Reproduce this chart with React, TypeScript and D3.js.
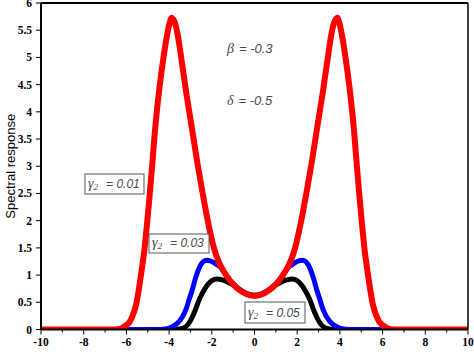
import React from 'react';
import * as d3 from 'd3';

const W = 474;
const H = 352;

const xTicks = [-10, -8, -6, -4, -2, 0, 2, 4, 6, 8, 10];
const xMinorTicks = [-9, -7, -5, -3, -1, 1, 3, 5, 7, 9];
const yTicks = [0, 0.5, 1, 1.5, 2, 2.5, 3, 3.5, 4, 4.5, 5, 5.5, 6];
const yTickLabels = ['0', '0.5', '1', '1.5', '2', '2.5', '3', '3.5', '4', '4.5', '5', '5.5', '6'];

const redX = [-10, -8, -6.6, -6.4, -6.2, -6.0, -5.85, -5.72, -5.55, -5.41, -5.3, -5.17, -5.02, -4.9, -4.78, -4.64, -4.45, -4.27, -4.1, -3.97, -3.88, -3.75, -3.6, -3.41, -3.2, -2.94, -2.7, -2.45, -2.25, -2.1, -1.95, -1.8, -1.6, -1.3, -1.0, -0.6, -0.3, 0,
  0.3, 0.6, 1.0, 1.3, 1.6, 1.8, 1.95, 2.1, 2.25, 2.45, 2.7, 2.94, 3.2, 3.41, 3.6, 3.75, 3.88, 3.97, 4.1, 4.27, 4.45, 4.64, 4.78, 4.9, 5.02, 5.17, 5.3, 5.41, 5.55, 5.72, 5.85, 6.0, 6.2, 6.4, 6.6, 8, 10];
const redY = [0, 0, 0.001, 0.005, 0.03, 0.08, 0.14, 0.24, 0.45, 0.76, 1.05, 1.42, 2.0, 2.52, 3.08, 3.75, 4.45, 4.98, 5.4, 5.64, 5.73, 5.66, 5.42, 4.93, 4.36, 3.72, 3.12, 2.55, 2.12, 1.83, 1.57, 1.37, 1.18, 0.98, 0.83, 0.7, 0.64, 0.62,
  0.64, 0.7, 0.83, 0.98, 1.18, 1.37, 1.57, 1.83, 2.12, 2.55, 3.12, 3.72, 4.36, 4.93, 5.42, 5.66, 5.73, 5.64, 5.4, 4.98, 4.45, 3.75, 3.08, 2.52, 2.0, 1.42, 1.05, 0.76, 0.45, 0.24, 0.14, 0.08, 0.03, 0.005, 0.001, 0, 0];

const blueX = [-10, -4.6, -4.3, -4.1, -3.85, -3.6, -3.38, -3.2, -3.07, -2.9, -2.75, -2.5, -2.3, -2.0, -1.8, -1.6, -1.3, -1.0, -0.6, -0.3, 0,
  0.3, 0.6, 1.0, 1.3, 1.6, 1.8, 2.0, 2.3, 2.5, 2.75, 2.9, 3.07, 3.2, 3.38, 3.6, 3.85, 4.1, 4.3, 4.6, 10];
const blueY = [0, 0, 0.005, 0.015, 0.05, 0.12, 0.23, 0.38, 0.54, 0.75, 0.96, 1.2, 1.27, 1.25, 1.2, 1.15, 0.98, 0.84, 0.71, 0.65, 0.63,
  0.65, 0.71, 0.84, 0.98, 1.15, 1.2, 1.25, 1.27, 1.2, 0.96, 0.75, 0.54, 0.38, 0.23, 0.12, 0.05, 0.015, 0.005, 0, 0];

const blackX = [-10, -3.8, -3.5, -3.3, -3.1, -2.9, -2.75, -2.6, -2.4, -2.2, -2.0, -1.74, -1.5, -1.25, -1.0, -0.8, -0.5, -0.25, 0,
  0.25, 0.5, 0.8, 1.0, 1.25, 1.5, 1.74, 2.0, 2.2, 2.4, 2.6, 2.75, 2.9, 3.1, 3.3, 3.5, 3.8, 10];
const blackY = [0, 0, 0.01, 0.03, 0.1, 0.24, 0.38, 0.54, 0.7, 0.82, 0.9, 0.93, 0.91, 0.87, 0.82, 0.76, 0.68, 0.635, 0.62,
  0.635, 0.68, 0.76, 0.82, 0.87, 0.91, 0.93, 0.9, 0.82, 0.7, 0.54, 0.38, 0.24, 0.1, 0.03, 0.01, 0, 0];

const seriesList = [
  { name: 'g005', xs: blackX, ys: blackY, color: '#000000', width: 5 },
  { name: 'g003', xs: blueX, ys: blueY, color: '#0000ff', width: 5 },
  { name: 'g001', xs: redX, ys: redY, color: '#ff0000', width: 6 },
];

const boxLabels = [
  { value: '0.01', x0: 85, y0: 174, x1: 144, y1: 194 },
  { value: '0.03', x0: 149, y0: 234, x1: 209, y1: 253 },
  { value: '0.05', x0: 245, y0: 302, x1: 305, y1: 323 },
];

export default function App() {
  const left = 41, right = 468, top = 3, bottom = 329.5;
  const x = d3.scaleLinear().domain([-10, 10]).range([left, right]);
  const y = d3.scaleLinear().domain([0, 6]).range([bottom, top]);
  const line = d3.line<[number, number]>()
    .x(d => x(d[0]))
    .y(d => y(Math.max(0, d[1])))
    .curve(d3.curveCatmullRom.alpha(0.5));

  const serif = "'Liberation Serif', 'Times New Roman', Times, 'DejaVu Serif', serif";
  const sans = "'Liberation Sans', Arial, sans-serif";
  const annColor = '#4a4a4a';

  return (
    <svg width={W} height={H} style={{ position: 'absolute', left: 0, top: 0, background: '#fff' }}>
      <defs>
        <clipPath id="plotclip">
          <rect x={left} y={top - 3} width={right - left} height={bottom - top + 3} />
        </clipPath>
      </defs>
      <rect x={0} y={0} width={W} height={H} fill="#fff" />
      <g clipPath="url(#plotclip)">
        {seriesList.map(s => (
          <path key={s.name}
            d={line(s.xs.map((v, i) => [v, s.ys[i]] as [number, number])) || ''}
            fill="none" stroke={s.color} strokeWidth={s.width} strokeLinejoin="round" strokeLinecap="round" />
        ))}
        <path
          d={line(redX.map((v, i) => [v, redY[i]] as [number, number])) || ''}
          fill="none" stroke="#d80000" strokeWidth={1.2} strokeDasharray="1 3" opacity={0.6} />
      </g>

      {/* frame */}
      <line x1={left} x2={right} y1={top} y2={top} stroke="#000" strokeWidth={2} />
      <line x1={left} x2={right} y1={bottom} y2={bottom} stroke="#000" strokeWidth={2} />
      <line x1={left} x2={left} y1={top} y2={bottom} stroke="#000" strokeWidth={2} />
      <line x1={right} x2={right} y1={top} y2={bottom} stroke="#000" strokeWidth={1.5} />

      {/* x ticks */}
      {xTicks.map(t => (
        <g key={'xt' + t}>
          <line x1={x(t)} x2={x(t)} y1={bottom} y2={bottom + 5} stroke="#000" strokeWidth={1} />
          <text x={x(t)} y={346} textAnchor="middle" style={{ fontFamily: serif, fontWeight: 700, fontSize: '11.5px' }}>{t}</text>
        </g>
      ))}
      {xMinorTicks.map(t => (
        <line key={'xm' + t} x1={x(t)} x2={x(t)} y1={bottom} y2={bottom + 3} stroke="#000" strokeWidth={1} />
      ))}

      {/* y ticks */}
      {yTicks.map((t, i) => (
        <g key={'yt' + t}>
          <line x1={left - 5} x2={left} y1={y(t)} y2={y(t)} stroke="#000" strokeWidth={1} />
          <text x={left - 9} y={y(t)} dy="0.35em" textAnchor="end" style={{ fontFamily: serif, fontWeight: 700, fontSize: '11.5px' }}>{yTickLabels[i]}</text>
        </g>
      ))}

      {/* y axis label */}
      <text transform={`translate(15,${(bottom + top) / 2}) rotate(-90)`} textAnchor="middle"
        style={{ fontFamily: sans, fontSize: '13px' }} fill="#000">Spectral response</text>

      {/* parameter annotations */}
      <text x={227} y={53} fill={annColor} fontStyle="italic">
        <tspan style={{ fontFamily: serif, fontSize: '14px' }}>β</tspan>
        <tspan style={{ fontFamily: sans, fontSize: '13px' }} dx={5}>= -0.3</tspan>
      </text>
      <text x={227} y={105} fill={annColor} fontStyle="italic">
        <tspan style={{ fontFamily: serif, fontSize: '14px' }}>δ</tspan>
        <tspan style={{ fontFamily: sans, fontSize: '13px' }} dx={5}>= -0.5</tspan>
      </text>

      {boxLabels.map(b => (
        <g key={b.value}>
          <rect x={b.x0} y={b.y0} width={b.x1 - b.x0} height={b.y1 - b.y0} fill="#fff" stroke="#555" strokeWidth={1} />
          <text x={b.x0 + 3} y={b.y1 - 6} fill={annColor} fontStyle="italic">
            <tspan style={{ fontFamily: serif, fontSize: '14px' }}>γ</tspan>
            <tspan style={{ fontFamily: serif, fontSize: '9px' }} dy={2}>2</tspan>
            <tspan style={{ fontFamily: sans, fontSize: '12px' }} dx={8} dy={-2}>= {b.value}</tspan>
          </text>
        </g>
      ))}
    </svg>
  );
}
